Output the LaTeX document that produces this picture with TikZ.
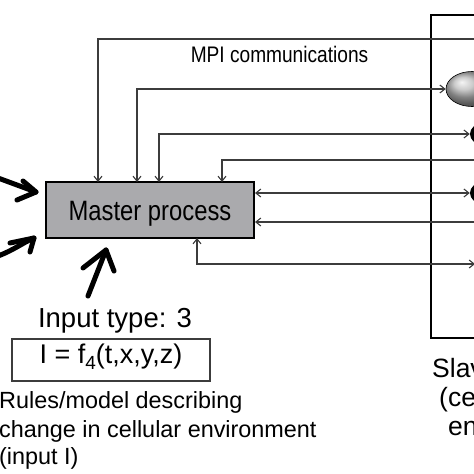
\documentclass[tikz,border=0pt]{standalone}
\usepackage{fontspec}
\setmainfont{Liberation Sans}
\newfontfamily\narrowfont[FakeStretch=0.85]{Liberation Sans}
\usetikzlibrary{arrows.meta,shapes.geometric,calc}
\definecolor{mastergray}{RGB}{170,170,173}
\definecolor{linegray}{RGB}{60,60,60}
\begin{document}
\begin{tikzpicture}[x=1pt,y=-1pt,
  >={Straight Barb[length=5pt,width=8pt]},
  conn/.style={draw=linegray, line width=1.1pt},
  brush/.style={draw=black, line width=5pt, line cap=round, line join=round},
  masterbox/.style={draw=black, line width=2pt, fill=mastergray, minimum width=208pt, minimum height=56pt, inner sep=0pt, text height=20pt, text depth=0pt},
  slavebox/.style={draw=black, line width=2.5pt, minimum width=100pt, minimum height=323pt, inner sep=0pt},
  formbox/.style={draw=linegray, line width=1.2pt, minimum width=198pt, minimum height=42pt, inner sep=0pt, text height=19pt, text depth=13pt},
  cellgray/.style={ellipse, draw=black, line width=0.6pt, shading=ball, ball color=gray!55, minimum width=52pt, minimum height=35pt, inner sep=0pt},
  cellblack/.style={ellipse, fill=black, minimum width=24pt, minimum height=21pt, inner sep=0pt},
  lbl/.style={inner sep=0pt}
]
\useasboundingbox (0,0) rectangle (474,474);
\clip (0,0) rectangle (474,474);

% boxes
\node[slavebox] (s) at (481,176.5) {};
\node[masterbox] (m) at (150,210) {\narrowfont\fontsize{28}{30}\selectfont Master process};
\node[formbox] (f) at (111,360) {\fontsize{27}{30}\selectfont I = f\raisebox{-6pt}{\fontsize{19}{20}\selectfont 4}(t,x,y,z)};

% cells
\node[cellgray] (e1) at (472,89) {};
\node[cellblack] (e2) at (482,134) {};
\node[cellblack] (e3) at (482,193) {};

% labels
\node[lbl, anchor=base] (mpi) at (279.5,62.7) {\narrowfont\fontsize{22.5}{25}\selectfont MPI communications};
\node[lbl, anchor=base] (it) at (115,327) {\fontsize{27.5}{30}\selectfont Input type: 3};
\node[lbl, anchor=base west] (r1t) at (-1,408) {\fontsize{23.4}{26}\selectfont Rules/model describing};
\node[lbl, anchor=base west] (r2t) at (-1,437) {\fontsize{23.4}{26}\selectfont change in cellular environment};
\node[lbl, anchor=base west] (r3t) at (-1,464) {\fontsize{23.4}{26}\selectfont (input I)};
\node[lbl, anchor=base west] (s1t) at (432,377) {\fontsize{26.5}{29}\selectfont Slave processes};
\node[lbl, anchor=base west] (s2t) at (439,406) {\fontsize{26.5}{29}\selectfont (cells in the};
\node[lbl, anchor=base west] (s3t) at (448,435) {\fontsize{26.5}{29}\selectfont environment)};

% connector end points
\coordinate (r1) at (480,39);
\coordinate (m1) at (98,182);
\coordinate (m2) at (137,182);
\coordinate (m3) at (159,182);
\coordinate (r4) at (480,160);
\coordinate (m4) at (222,182);
\coordinate (m5) at (m.east |- e3.west);
\coordinate (r6) at (480,222);
\coordinate (m6) at (m.east |- r6);
\coordinate (m7) at (197,238);
\coordinate (r7) at (475,264);

% MPI connectors
\draw[conn,->] (r1) -| (m1);
\draw[conn,<->] (m2) |- (e1.west);
\draw[conn,<->] (m3) |- (e2.west);
\draw[conn,->] (r4) -| (m4);
\draw[conn,<->] (m5) -- (e3.west);
\draw[conn,->] (r6) -- (m6);
\draw[conn,<->] (m7) |- (r7);

% hand-drawn input arrows
\coordinate (h1s) at (-2,178);
\coordinate (h1e) at (36,192);
\draw[brush] (h1s) -- (h1e);
\draw[brush] (23,181) -- (h1e) -- (17,200);
\coordinate (h2s) at (-2,256);
\coordinate (h2e) at (34,238);
\draw[brush] (h2s) .. controls (14,250) and (24,242) .. (h2e);
\draw[brush] (10,243) -- (h2e) -- (30,252);
\coordinate (h3s) at (88,296);
\coordinate (h3e) at (106,250);
\draw[brush] (h3s) -- (h3e);
\draw[brush] (83,268) -- (h3e) -- (114,271);
\end{tikzpicture}
\end{document}
